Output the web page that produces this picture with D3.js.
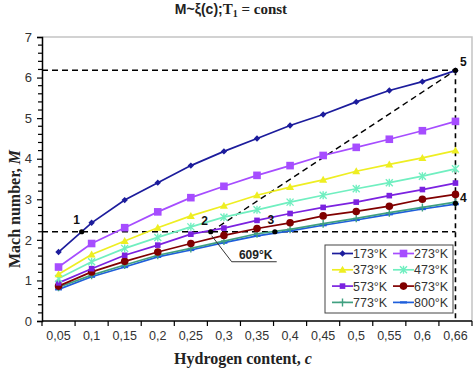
<!DOCTYPE html>
<html><head><meta charset="utf-8">
<script src="https://cdn.jsdelivr.net/npm/d3@7"></script>
<style>body{margin:0;background:#fff;}svg{display:block;}</style>
</head><body>
<svg id="c" width="474" height="370"></svg>
<script>
const categories = [0.05,0.1,0.15,0.2,0.25,0.3,0.35,0.4,0.45,0.5,0.55,0.6,0.66];
const tickLabels = ["0,05","0,1","0,15","0,2","0,25","0,3","0,35","0,4","0,45","0,5","0,55","0,6","0,66"];
const yTicks = [0,1,2,3,4,5,6,7];
const seriesNames = ["173°K","273°K","373°K","473°K","573°K","673°K","773°K","800°K"];
const s173 = [1.70,2.42,2.98,3.41,3.83,4.18,4.50,4.82,5.09,5.40,5.68,5.90,6.17];
const s273 = [1.33,1.91,2.30,2.69,3.04,3.32,3.59,3.83,4.08,4.28,4.48,4.69,4.92];
const s373 = [1.15,1.64,1.97,2.30,2.59,2.84,3.10,3.30,3.48,3.69,3.86,4.02,4.20];
const s473 = [1.05,1.46,1.79,2.06,2.32,2.56,2.74,2.93,3.10,3.26,3.41,3.57,3.75];
const s573 = [0.94,1.29,1.62,1.87,2.14,2.29,2.48,2.65,2.80,2.93,3.09,3.24,3.40];
const s673 = [0.86,1.21,1.47,1.70,1.91,2.11,2.28,2.42,2.59,2.70,2.83,3.00,3.12];
const s773 = [0.83,1.13,1.38,1.62,1.79,1.97,2.15,2.26,2.40,2.53,2.67,2.80,2.93];
const s800 = [0.78,1.09,1.33,1.58,1.75,1.93,2.10,2.22,2.36,2.49,2.63,2.76,2.88];
const seriesValues = [s173,s273,s373,s473,s573,s673,s773,s800];
const colors = ["#1c1c9c","#a64dff","#eeee22","#70efc0","#7b22e0","#800000","#40a080","#1f5fdb"];
const markers = ["diamond","square","triangle","star","smallsquare","circle","plus","dash"];
// annotation points (c, M)
const annoLabels = ["1","2","3","4","5"];
const annoC = [0.085,0.28,0.377,0.66,0.66];
const annoM = [2.2,2.2,2.2,2.9,6.18];
const hLevels = [6.18,2.2];

const svg = d3.select("#c");
const L=42,R=472,T=37,B=321;
const x = d3.scalePoint().domain(d3.range(categories.length)).range([L,R]).padding(0.5);
const xc = d3.scaleLinear().domain(categories).range(categories.map((_,i)=>x(i)));
const y = d3.scaleLinear().domain([0,7]).range([B,T]);
const step = x.step();

// frame
svg.append("path").attr("d",`M${L},${T}H${R}V${B}`).attr("fill","none").attr("stroke","#c4c4c4").attr("stroke-width",1.5);

// y axis
const ya = svg.append("g").attr("transform",`translate(${L},0)`)
  .call(d3.axisLeft(y).tickValues(yTicks).tickSize(5).tickFormat(d3.format("d")));
ya.select(".domain").attr("stroke","#000").attr("stroke-width",1.5);
ya.selectAll(".tick line").attr("stroke","#000").attr("stroke-width",1.2);
ya.selectAll("text").attr("font-family","Liberation Sans, Arial").attr("font-size",13).attr("fill","#333").attr("x",-10);
const minor = d3.range(0,7.01,0.2).filter(v=>Math.abs(v-Math.round(v))>0.01);
svg.append("g").selectAll("line").data(minor).join("line")
  .attr("x1",L-4).attr("x2",L).attr("y1",d=>y(d)).attr("y2",d=>y(d)).attr("stroke","#000").attr("stroke-width",1.2);

// x axis
svg.append("line").attr("x1",L).attr("x2",R).attr("y1",B).attr("y2",B).attr("stroke","#000").attr("stroke-width",1.5);
svg.append("g").selectAll("line").data(d3.range(categories.length+1)).join("line")
  .attr("x1",i=>L+i*step).attr("x2",i=>L+i*step).attr("y1",B).attr("y2",B+5).attr("stroke","#000").attr("stroke-width",1.2);
svg.append("g").selectAll("text").data(tickLabels).join("text")
  .attr("x",(d,i)=>x(i)).attr("y",B+19).attr("text-anchor","middle")
  .attr("font-family","Liberation Sans, Arial").attr("font-size",12.5).attr("fill","#333").text(d=>d);

// reference dashed lines
const dash = "6,4";
const p5 = [xc(annoC[4]), y(annoM[4])], p2=[xc(annoC[1]), y(annoM[1])];
hLevels.forEach(v=>{
  svg.append("line").attr("x1",L).attr("x2",xc(0.66)).attr("y1",y(v)).attr("y2",y(v))
    .attr("stroke","#000").attr("stroke-width",1.6).attr("stroke-dasharray",dash);
});
svg.append("line").attr("x1",xc(0.66)).attr("x2",xc(0.66)).attr("y1",y(annoM[4])).attr("y2",B)
  .attr("stroke","#000").attr("stroke-width",1.6).attr("stroke-dasharray","5,4");
svg.append("line").attr("x1",p2[0]).attr("y1",p2[1]).attr("x2",p5[0]).attr("y2",p5[1])
  .attr("stroke","#000").attr("stroke-width",1.4).attr("stroke-dasharray",dash);

// marker drawing
function drawMarker(g,type,color){
  switch(type){
    case "diamond": g.append("path").attr("d","M0,-3.2L3.2,0L0,3.2L-3.2,0Z").attr("fill",color); break;
    case "square": g.append("rect").attr("x",-3.8).attr("y",-3.8).attr("width",7.6).attr("height",7.6).attr("fill",color); break;
    case "triangle": g.append("path").attr("d","M0,-4L4,3L-4,3Z").attr("fill",color); break;
    case "star": g.append("path").attr("d","M-3.5,-3.5L3.5,3.5M-3.5,3.5L3.5,-3.5M0,-4V4").attr("stroke",color).attr("stroke-width",1.4); break;
    case "smallsquare": g.append("rect").attr("x",-2.8).attr("y",-2.8).attr("width",5.6).attr("height",5.6).attr("fill",color); break;
    case "circle": g.append("circle").attr("r",3.8).attr("fill",color); break;
    case "plus": g.append("path").attr("d","M0,-4V4M-3,0H3").attr("stroke",color).attr("stroke-width",1.4); break;
    case "dash": g.append("path").attr("d","M-3.5,0H3.5").attr("stroke",color).attr("stroke-width",2.2); break;
  }
}

const line = d3.line().x((d,i)=>x(i)).y(d=>y(d));
for(let k=seriesValues.length-1;k>=0;k--){
  const g = svg.append("g");
  g.append("path").attr("d",line(seriesValues[k])).attr("fill","none").attr("stroke",colors[k]).attr("stroke-width",1.7);
  seriesValues[k].forEach((v,i)=>{
    const mg = g.append("g").attr("transform",`translate(${x(i)},${y(v)})`);
    drawMarker(mg,markers[k],colors[k]);
  });
}

// annotation points
const off = [[-5,-8],[-6,-7],[-4,-8],[8,-1],[8,-4]];
annoLabels.forEach((lab,i)=>{
  const px=xc(annoC[i]), py=y(annoM[i]);
  svg.append("circle").attr("cx",px).attr("cy",py).attr("r",2.6).attr("fill","#000");
  svg.append("text").attr("x",px+off[i][0]).attr("y",py+off[i][1]).attr("text-anchor","middle")
    .attr("font-family","Liberation Sans, Arial").attr("font-weight","bold").attr("font-size",12).attr("fill","#111").text(lab);
});

// 609°K callout
svg.append("path").attr("d",`M${p2[0]+1},${p2[1]+4}L${p2[0]+21},${p2[1]+30}H${p2[0]+66}`)
  .attr("fill","none").attr("stroke","#333").attr("stroke-width",1);
svg.append("text").attr("x",p2[0]+45).attr("y",p2[1]+27).attr("text-anchor","middle")
  .attr("font-family","Liberation Sans, Arial").attr("font-weight","bold").attr("font-size",12).attr("fill","#222").text("609°K");

// legend
const lg = svg.append("g");
lg.append("rect").attr("x",325).attr("y",245).attr("width",128).attr("height",68).attr("fill","#fff").attr("stroke","#444").attr("stroke-width",1);
seriesNames.forEach((n,k)=>{
  const col=k%2, row=Math.floor(k/2);
  const x0 = col===0?332:393, yy = 253.5+row*16.3;
  const g = lg.append("g");
  g.append("line").attr("x1",x0).attr("x2",x0+21).attr("y1",yy).attr("y2",yy).attr("stroke",colors[k]).attr("stroke-width",1.7);
  const mg = g.append("g").attr("transform",`translate(${x0+10.5},${yy})`);
  drawMarker(mg,markers[k],colors[k]);
  g.append("text").attr("x",x0+21).attr("y",yy+4.5).attr("font-family","Liberation Sans, Arial").attr("font-size",12.5).attr("fill","#333").text(n);
});

// title
const t = svg.append("text").attr("x",231).attr("y",14).attr("text-anchor","middle").attr("font-weight","bold").attr("fill","#222");
t.append("tspan").attr("font-family","Liberation Sans, Arial").attr("font-size",14).text("M~ξ(c);");
t.append("tspan").attr("font-family","Liberation Serif, Times New Roman").attr("font-size",15).text("T");
t.append("tspan").attr("font-family","Liberation Serif, Times New Roman").attr("font-size",10).attr("dy",3).text("1");
t.append("tspan").attr("font-family","Liberation Serif, Times New Roman").attr("font-size",15).attr("dy",-3).text(" = const");

// axis titles
const xt = svg.append("text").attr("x",243).attr("y",364).attr("text-anchor","middle")
  .attr("font-family","Liberation Serif, Times New Roman").attr("font-weight","bold").attr("font-size",16).attr("fill","#222");
xt.append("tspan").text("Hydrogen content, ");
xt.append("tspan").attr("font-style","italic").text("c");
const yt = svg.append("text").attr("transform","translate(20,209) rotate(-90)").attr("text-anchor","middle")
  .attr("font-family","Liberation Serif, Times New Roman").attr("font-weight","bold").attr("font-size",16).attr("fill","#222");
yt.append("tspan").text("Mach number, ");
yt.append("tspan").attr("font-style","italic").text("M");
</script>
</body></html>
